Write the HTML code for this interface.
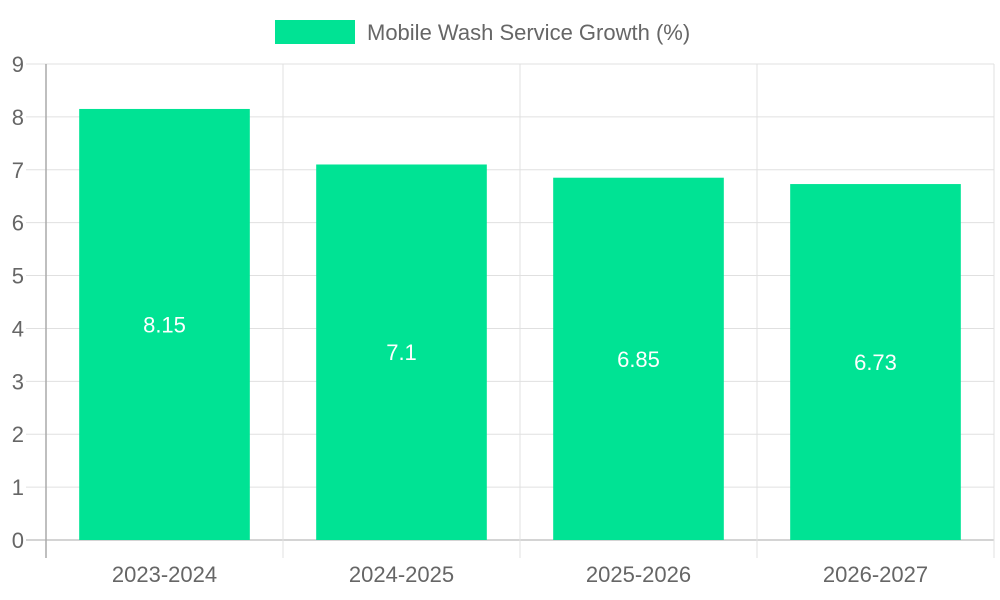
<!DOCTYPE html>
<html><head><meta charset="utf-8"><style>
body{margin:0;background:#fff;font-family:"Liberation Sans",sans-serif}
svg{display:block}
</style></head><body>
<svg id="chart" width="1000" height="600">
<g>
<rect x="275" y="20" width="80" height="24" fill="#00e394"/>
<text x="367" y="40" font-size="22" fill="#666">Mobile Wash Service Growth (%)</text>
</g>
<g id="grid"></g><g id="bars"></g><g id="axes"></g>
</svg>
<script>
const categories=["2023-2024","2024-2025","2025-2026","2026-2027"];
const values=[8.15,7.1,6.85,6.73];
const yTicks=[0,1,2,3,4,5,6,7,8,9];
const NS="http://www.w3.org/2000/svg";
const L=46,R=994,T=64,B=540,yMax=9;
const y=v=>B-(v/yMax)*(B-T);
const bw=(R-L)/categories.length;
const x=i=>L+bw*i;
function mk(p,tag,a,txt){const e=document.createElementNS(NS,tag);for(const k in a)e.setAttribute(k,a[k]);if(txt!==undefined)e.textContent=txt;document.getElementById(p).appendChild(e);return e;}
yTicks.forEach(t=>{
 const g=mk('grid','line',{x1:L-20,x2:R,y1:y(t),y2:y(t),stroke:t===0?'#aaa':'#e0e0e0','stroke-width':1});
 
 
 const l=mk('axes','text',{x:24,y:y(t)+8,'font-size':22,fill:'#666','text-anchor':'end'},String(t));
 
 
});
for(let i=1;i<=categories.length;i++){
 const g=mk('grid','line',{x1:x(i),x2:x(i),y1:T,y2:B+18,stroke:'#e0e0e0','stroke-width':1});
 
 
}
const ax=mk('axes','line',{x1:L,x2:L,y1:T,y2:B+18,stroke:'#aaa','stroke-width':1.5});


categories.forEach((c,i)=>{
 const w=bw*0.72,bx=x(i)+(bw-w)/2;
 const r=mk('bars','rect',{x:bx,y:y(values[i]),width:w,height:B-y(values[i]),fill:'#00e394'});
 
 
 const v=mk('bars','text',{x:bx+w/2,y:(y(values[i])+B)/2+8,'font-size':22,fill:'#fff','text-anchor':'middle'},String(values[i]));
 
 
 const t=mk('axes','text',{x:x(i)+bw/2,y:582,'font-size':22,fill:'#666','text-anchor':'middle'},c);
 
 
});
</script>
</body></html>
